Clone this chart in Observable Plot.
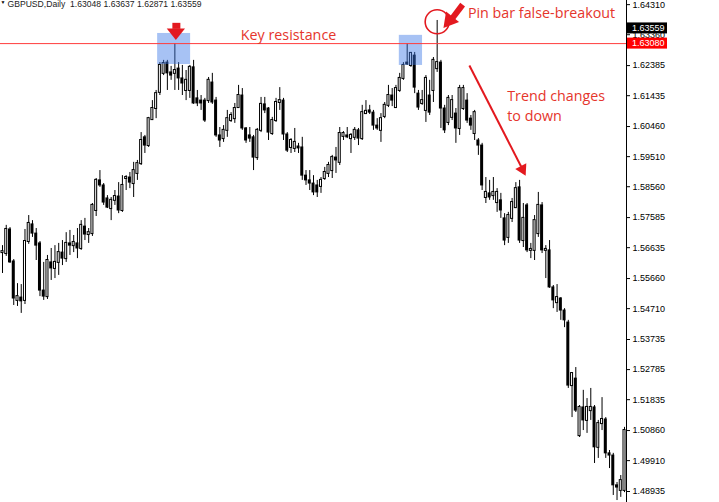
<!DOCTYPE html>
<html><head><meta charset="utf-8">
<script src="https://cdn.jsdelivr.net/npm/d3@7"></script>
<script src="https://cdn.jsdelivr.net/npm/@observablehq/plot@0.6"></script>
<style>
html,body{margin:0;padding:0;background:#fff;}
#chart{position:relative;width:719px;height:502px;overflow:hidden;}
</style></head><body><div id="chart"></div>
<script>
const symbolName = "GBPUSD,Daily";
const quote = [1.63048, 1.63637, 1.62871, 1.63559];
const resistance = 1.63080;

const open = [1.5648,1.5645,1.5721,1.5620,1.5497,1.5506,1.5497,1.5683,1.5737,1.5708,
1.5677,1.5528,1.5509,1.5617,1.5598,1.5617,1.5648,1.5629,1.5677,1.5670,
1.5677,1.5661,1.5730,1.5705,1.5708,1.5781,1.5876,1.5860,1.5819,1.5787,
1.5813,1.5825,1.5781,1.5882,1.5885,1.5866,1.5898,1.5929,1.6012,1.5986,
1.6068,1.6103,1.6154,1.6214,1.6248,1.6217,1.6214,1.6229,1.6198,1.6160,
1.6160,1.6233,1.6135,1.6128,1.6128,1.6128,1.6185,1.6128,1.6018,1.6008,
1.6034,1.6065,1.6071,1.6106,1.6144,1.6040,1.6018,1.6012,1.5948,1.6034,
1.6116,1.6103,1.6024,1.6065,1.6122,1.6128,1.6021,1.5980,1.5977,1.5983,
1.5980,1.5891,1.5876,1.5866,1.5860,1.5857,1.5882,1.5898,1.5907,1.5948,
1.5933,1.6015,1.6018,1.6008,1.6012,1.6034,1.6008,1.6087,1.6097,1.6090,
1.6049,1.6034,1.6078,1.6113,1.6144,1.6106,1.6160,1.6198,1.6248,1.6239,
1.6270,1.6150,1.6119,1.6097,1.6144,1.6160,1.6229,1.6248,1.6103,1.6059,
1.6075,1.6087,1.6040,1.6103,1.6128,1.6071,1.6024,1.6002,1.5986,1.5822,
1.5835,1.5828,1.5806,1.5813,1.5756,1.5696,1.5756,1.5790,1.5854,1.5686,
1.5797,1.5655,1.5655,1.5708,1.5797,1.5655,1.5655,1.5538,1.5490,1.5503,
1.5465,1.5427,1.5228,1.5250,1.5070,1.5159,1.5118,1.5149,1.5159,1.5033,
1.5108,1.5121,1.5014,1.5007,1.4913,1.4897,1.4897];

const close = [1.5651,1.5721,1.5617,1.5503,1.5509,1.5494,1.5683,1.5740,1.5708,1.5670,
1.5528,1.5509,1.5623,1.5598,1.5617,1.5648,1.5629,1.5677,1.5670,1.5680,
1.5661,1.5734,1.5705,1.5711,1.5797,1.5876,1.5860,1.5806,1.5790,1.5813,
1.5825,1.5781,1.5860,1.5885,1.5869,1.5907,1.5929,1.6002,1.5986,1.6071,
1.6103,1.6150,1.6239,1.6245,1.6214,1.6207,1.6223,1.6198,1.6182,1.6192,
1.6233,1.6119,1.6119,1.6119,1.6065,1.6192,1.6122,1.6018,1.6002,1.6034,
1.6071,1.6081,1.6103,1.6144,1.6040,1.6002,1.6008,1.5948,1.6034,1.6116,
1.6097,1.6027,1.6065,1.6122,1.6128,1.6021,1.5970,1.6002,1.5996,1.5977,
1.5891,1.5876,1.5866,1.5838,1.5838,1.5876,1.5901,1.5923,1.5948,1.5939,
1.6024,1.6024,1.6012,1.6018,1.6034,1.6008,1.6090,1.6094,1.6090,1.6049,
1.6040,1.6071,1.6113,1.6144,1.6128,1.6166,1.6198,1.6239,1.6242,1.6277,
1.6169,1.6106,1.6128,1.6198,1.6090,1.6255,1.6248,1.6103,1.6034,1.6135,
1.6128,1.6040,1.6166,1.6166,1.6065,1.6049,1.6090,1.5986,1.5860,1.5838,
1.5822,1.5838,1.5838,1.5781,1.5686,1.5765,1.5806,1.5850,1.5686,1.5756,
1.5655,1.5658,1.5749,1.5797,1.5655,1.5658,1.5538,1.5497,1.5506,1.5465,
1.5434,1.5228,1.5266,1.5149,1.5159,1.5118,1.5159,1.5159,1.5033,1.5108,
1.5121,1.5014,1.5007,1.4913,1.4906,1.4928,1.5086];

const high = [1.5670,1.5734,1.5727,1.5626,1.5550,1.5547,1.5721,1.5765,1.5749,1.5724,
1.5683,1.5617,1.5639,1.5661,1.5670,1.5677,1.5686,1.5711,1.5718,1.5702,
1.5724,1.5749,1.5756,1.5724,1.5803,1.5882,1.5907,1.5866,1.5828,1.5822,
1.5844,1.5869,1.5891,1.5891,1.5901,1.5933,1.5939,1.6027,1.6018,1.6075,
1.6128,1.6160,1.6248,1.6255,1.6255,1.6236,1.6308,1.6248,1.6239,1.6223,
1.6239,1.6255,1.6160,1.6144,1.6135,1.6201,1.6214,1.6138,1.6043,1.6049,
1.6097,1.6090,1.6119,1.6176,1.6166,1.6043,1.6043,1.6018,1.6040,1.6138,
1.6138,1.6106,1.6075,1.6135,1.6169,1.6135,1.6027,1.6008,1.6040,1.5993,
1.6012,1.5907,1.5907,1.5891,1.5876,1.5885,1.5917,1.5933,1.5955,1.5980,
1.6043,1.6030,1.6043,1.6024,1.6043,1.6040,1.6113,1.6128,1.6113,1.6097,
1.6071,1.6087,1.6122,1.6176,1.6166,1.6176,1.6214,1.6248,1.6308,1.6280,
1.6280,1.6160,1.6160,1.6207,1.6192,1.6264,1.6381,1.6255,1.6113,1.6144,
1.6144,1.6103,1.6176,1.6176,1.6150,1.6081,1.6097,1.6008,1.5993,1.5885,
1.5876,1.5885,1.5850,1.5835,1.5771,1.5775,1.5819,1.5869,1.5876,1.5803,
1.5803,1.5677,1.5765,1.5838,1.5806,1.5670,1.5686,1.5544,1.5547,1.5506,
1.5471,1.5434,1.5269,1.5285,1.5165,1.5213,1.5187,1.5219,1.5165,1.5118,
1.5190,1.5127,1.5023,1.5014,1.4922,1.4944,1.5096];

const low = [1.5582,1.5636,1.5614,1.5481,1.5478,1.5456,1.5484,1.5674,1.5696,1.5623,
1.5509,1.5497,1.5500,1.5560,1.5566,1.5576,1.5607,1.5617,1.5639,1.5648,
1.5629,1.5655,1.5686,1.5677,1.5699,1.5762,1.5854,1.5797,1.5787,1.5749,
1.5797,1.5771,1.5775,1.5844,1.5850,1.5822,1.5876,1.5923,1.5961,1.5980,
1.6065,1.6071,1.6144,1.6207,1.6160,1.6192,1.6160,1.6160,1.6144,1.6128,
1.6135,1.6116,1.6109,1.6097,1.6059,1.6119,1.6116,1.6012,1.5980,1.5996,
1.6012,1.6059,1.6056,1.6103,1.6034,1.5993,1.5996,1.5907,1.5939,1.6027,
1.6087,1.6002,1.6018,1.6059,1.6097,1.6002,1.5964,1.5961,1.5964,1.5961,
1.5876,1.5860,1.5844,1.5828,1.5822,1.5835,1.5876,1.5885,1.5882,1.5898,
1.5923,1.6002,1.6008,1.5961,1.6002,1.5986,1.6002,1.6084,1.6084,1.6034,
1.6034,1.5996,1.6071,1.6106,1.6109,1.6103,1.6154,1.6192,1.6239,1.6233,
1.6150,1.6097,1.6113,1.6059,1.6081,1.6122,1.6217,1.6040,1.6024,1.6049,
1.6065,1.5993,1.6018,1.6097,1.6056,1.6034,1.6002,1.5955,1.5844,1.5803,
1.5813,1.5813,1.5775,1.5756,1.5670,1.5677,1.5743,1.5787,1.5677,1.5664,
1.5648,1.5629,1.5623,1.5696,1.5645,1.5566,1.5535,1.5471,1.5459,1.5434,
1.5411,1.5219,1.5127,1.5143,1.5064,1.5086,1.5077,1.5118,1.4982,1.4998,
1.5086,1.4998,1.4966,1.4881,1.4865,1.4875,1.4890];

const tickValues = [1.64310,1.63360,1.62385,1.61435,1.60460,1.59510,1.58560,1.57585,1.56635,1.55660,1.54710,1.53735,1.52785,1.51835,1.50860,1.49910,1.48935];
const priceDomain = [1.48588, 1.64441];

// annotations (bar index / price)
const zones = [{i1: 41.4, i2: 50.2, top: 1.6340, bottom: 1.6242}, {i1: 105.9, i2: 112.1, top: 1.6334, bottom: 1.6239}];
const notes = [
  {text: "Key resistance", i: 63.6, price: 1.6334},
  {text: "Pin bar false-breakout", i: 124.2, price: 1.6403},
  {text: "Trend changes", i: 134.7, price: 1.6141},
  {text: "to down", i: 134.7, price: 1.6078}
];
const pinBar = {i: 116, price: 1.6377};
const downShaft = [{i: 46.4, y1: 1.6372, y2: 1.6353}];
const downHead = [{i: 43.96, y1: 1.6354, y2: 1.6354}, {i: 46.4, y1: 1.6354, y2: 1.6318}, {i: 48.84, y1: 1.6354, y2: 1.6354}];
const pinArrow = {x1: 122.8, y1: 1.6431, x2: 119.8, y2: 1.6384, headI: 119.3, headP: 1.6381, rotate: 219};
const trendArrow = {x1: 124.6, y1: 1.6239, x2: 138.4, y2: 1.5920, headI: 138.75, headP: 1.5911, rotate: 153};

const candles = open.map((o, i) => ({i, open: o, high: high[i], low: low[i], close: close[i]}));
const bull = candles.filter(d => d.close > d.open);
const bear = candles.filter(d => d.close <= d.open);
const N = candles.length;
const xDomain = [-0.534, N - 0.47];
const red = "#e3191f";
const textRed = "#e5352c";
const header = symbolName + "\u00a0\u00a0" + quote.map(q => q.toFixed(5)).join(" ");

const chart = Plot.plot({
  width: 719, height: 502,
  marginLeft: 0, marginRight: 93, marginTop: 0, marginBottom: 0,
  style: {fontFamily: "'Liberation Sans', Arial, sans-serif", fontSize: "9px", background: "#fff", color: "#000"},
  x: {type: "linear", domain: xDomain, axis: null},
  y: {domain: priceDomain, axis: "right", ticks: tickValues, tickFormat: d => d.toFixed(5), tickSize: 3, tickPadding: 3, label: null},
  marks: [
    Plot.ruleX(candles, {x: "i", y1: "low", y2: "high", stroke: "#000", strokeWidth: 1}),
    Plot.rect(bear, {x1: d => d.i - 0.4, x2: d => d.i + 0.4, y1: "open", y2: "close", fill: "#000", insetTop: -0.5, insetBottom: -0.5}),
    Plot.rect(bull, {x1: d => d.i - 0.27, x2: d => d.i + 0.27, y1: "open", y2: "close", fill: "#fff", stroke: "#000", strokeWidth: 1, insetTop: -0.5, insetBottom: -0.5}),
    Plot.rect(zones, {x1: "i1", x2: "i2", y1: "bottom", y2: "top", fill: "#3c78e6", fillOpacity: 0.45}),
    Plot.ruleY([resistance], {stroke: "#ff3c3c", strokeWidth: 1}),
    Plot.text(notes, {x: "i", y: "price", text: "text", textAnchor: "start", lineAnchor: "middle", fill: textRed, fontSize: 14.3, fontFamily: "'Open Sans', sans-serif"}),
    Plot.ruleX(downShaft, {x: "i", y1: "y1", y2: "y2", stroke: red, strokeWidth: 8}),
    Plot.areaY(downHead, {x: "i", y1: "y1", y2: "y2", fill: red}),
    Plot.dot([pinBar], {x: "i", y: "price", r: 12, stroke: red, strokeWidth: 1.6, fill: "none"}),
    Plot.link([pinArrow], {x1: "x1", y1: "y1", x2: "x2", y2: "y2", stroke: red, strokeWidth: 6}),
    Plot.dot([pinArrow], {x: "headI", y: "headP", symbol: "triangle", r: 6.2, rotate: pinArrow.rotate, fill: red, stroke: "none"}),
    Plot.link([trendArrow], {x1: "x1", y1: "y1", x2: "x2", y2: "y2", stroke: red, strokeWidth: 2}),
    Plot.dot([trendArrow], {x: "headI", y: "headP", symbol: "triangle", r: 4.6, rotate: trendArrow.rotate, fill: red, stroke: "none"}),
    Plot.ruleX([xDomain[1]], {stroke: "#000", strokeWidth: 1}),
    Plot.text(["\u25BC"], {frameAnchor: "top-left", dx: 0, dy: 2, fontSize: 5, fill: "#000", textAnchor: "start", lineAnchor: "middle"}),
    Plot.text([header], {frameAnchor: "top-left", dx: 7, dy: 3.5, fontSize: 8.6, fill: "#222", textAnchor: "start", lineAnchor: "middle"})
  ]
});

document.getElementById("chart").appendChild(chart);

// current-price and resistance tags on the right scale
const ys = chart.scale("y");
const svg = d3.select(chart);
const priceTags = [{price: quote[3], fill: "#000"}, {price: resistance, fill: "#ff0000"}];
for (const t of priceTags) {
  const yy = ys.apply(t.price);
  const g = svg.append("g");
  g.append("rect").attr("x", 627).attr("y", yy - 5.5).attr("width", 40).attr("height", 11).attr("fill", t.fill);
  g.append("text").attr("x", 632).attr("y", yy + 3.3).attr("fill", "#fff").attr("text-anchor", "start")
    .attr("font-size", 9).attr("font-family", "'Liberation Sans', Arial, sans-serif").text(t.price.toFixed(5));
}
</script>
</body></html>
